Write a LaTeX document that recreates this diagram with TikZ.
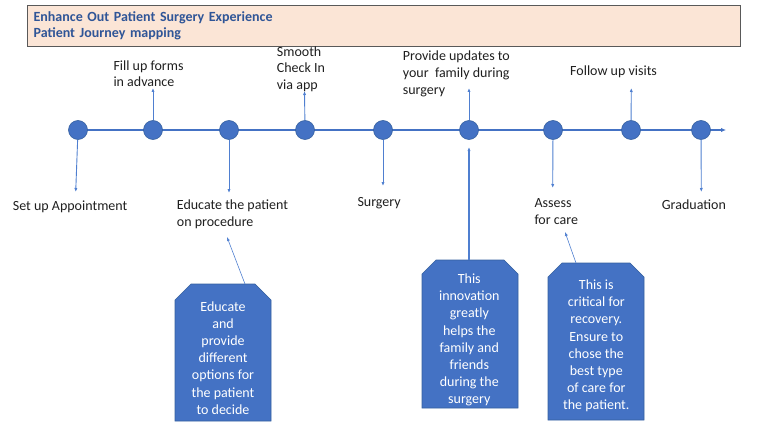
\documentclass[tikz,border=0pt]{standalone}
\usepackage{fontspec}
\setmainfont{Carlito}
\usetikzlibrary{arrows.meta,backgrounds}
\definecolor{hdrfill}{HTML}{FBE5D6}
\definecolor{hdrdraw}{HTML}{595959}
\definecolor{hdrtext}{HTML}{2F5597}
\definecolor{dotblue}{HTML}{4472C4}
\definecolor{dotdraw}{HTML}{35609F}
\definecolor{connblue}{HTML}{4F7FD0}
\definecolor{labeltext}{HTML}{1F1F1F}
\tikzset{
  dot/.style={circle, fill=dotblue, draw=dotdraw, line width=0.6pt, minimum size=19pt, inner sep=0pt},
  timeline/.style={draw=dotblue, line width=1.6pt, -{Latex[length=5pt,width=4.5pt]}},
  conn/.style={draw=connblue, line width=0.9pt, -{Latex[length=4pt,width=3.2pt]}},
  lbl/.style={anchor=north west, inner sep=0pt, align=left, text=labeltext, font=\fontsize{14}{16.8}\selectfont},
  boxtext/.style={anchor=north, inner sep=0pt, align=center, text=white, font=\fontsize{14}{17.2}\selectfont},
  chamfill/.style={fill=dotblue, draw=dotdraw, line width=0.6pt},
}
\newcommand{\chambox}[5]{%
  \path[chamfill] (#1,#4) -- (#1,#2+#5) -- (#1+#5,#2) -- (#3-#5,#2) -- (#3,#2+#5) -- (#3,#4) -- cycle;}
\begin{document}
\begin{tikzpicture}[x=1pt,y=-1pt]
\useasboundingbox (0,0) rectangle (768,433);
% header
\node[draw=hdrdraw, fill=hdrfill, line width=1.2pt, anchor=north west, minimum width=713pt, minimum height=41pt,
  text width=701pt, inner xsep=6pt, inner ysep=0pt, align=left, text=hdrtext,
  font=\fontsize{14}{16.8}\selectfont\bfseries] (hdr) at (27,5)
  {\strut Enhance Out Patient Surgery Experience\\\strut Patient Journey mapping};
% dots
\node[dot] (c1) at (78,130) {};
\node[dot] (c2) at (153,130) {};
\node[dot] (c3) at (229,130) {};
\node[dot] (c4) at (305,130) {};
\node[dot] (c5) at (383,130) {};
\node[dot] (c6) at (469,130) {};
\node[dot] (c7) at (553,130) {};
\node[dot] (c8) at (631,130) {};
\node[dot] (c9) at (701,130) {};
\coordinate (tlend) at (726,130);
\begin{scope}[on background layer]
\draw[timeline] (c1.center) -- (tlend);
\end{scope}
% labels
\node[lbl] (l1) at (12.7,198.6) {\strut Set up Appointment};
\node[lbl] (l2) at (113.3,58.1) {\strut Fill up forms\\in advance};
\node[lbl] (l3) at (176.7,197.4) {\strut Educate the patient\\on procedure};
\node[lbl] (l4) at (276.7,44.1) {\strut Smooth\\Check In\\via app};
\node[lbl] (l5) at (357.3,194.8) {\strut Surgery};
\node[lbl] (l6) at (402.7,48.8) {\strut Provide updates to\\your\ \ family during\\surgery};
\node[lbl] (l7) at (570,63.8) {\strut Follow up visits};
\node[lbl] (l8) at (534.3,195.8) {\strut Assess\\for care};
\node[lbl] (l9) at (661.7,197.1) {\strut Graduation};
% connector ends
\coordinate (a1) at (75.7,192);
\coordinate (a2) at (153,88);
\coordinate (a3) at (229,193);
\coordinate (a4) at (304.5,91);
\coordinate (a5) at (383,186);
\coordinate (a6) at (469,88);
\coordinate (a7) at (552.7,188);
\coordinate (a8) at (631.3,88);
\coordinate (a9) at (701.3,192);
\draw[conn] (c1) -- (a1);
\draw[conn] (c2) -- (a2);
\draw[conn] (c3) -- (a3);
\draw[conn] (c4) -- (a4);
\draw[conn] (c5) -- (a5);
\draw[conn] (c6) -- (a6);
\draw[conn] (c7) -- (a7);
\draw[conn] (c8) -- (a8);
\draw[conn] (c9) -- (a9);
% callout boxes
\chambox{175}{284}{271}{421}{16}
\chambox{422}{260}{518}{408}{14}
\chambox{548}{263}{644}{420}{14}
\node[boxtext] (t1) at (223,298.8) {\strut Educate\\and\\provide\\different\\options for\\the patient\\to decide};
\node[boxtext] (t2) at (469.3,271.3) {\strut This\\innovation\\greatly\\helps the\\family and\\friends\\during the\\surgery};
\node[boxtext] (t3) at (596.3,277.3) {\strut This is\\critical for\\recovery.\\Ensure to\\chose the\\best type\\of care for\\the patient.};
\coordinate (b1top) at (245,284);
\coordinate (b2top) at (469,260);
\coordinate (b3top) at (576,263);
\coordinate (p1) at (227,237);
\coordinate (p2) at (469,147);
\coordinate (p3) at (565,232);
\draw[conn, line width=0.6pt] (b1top) -- (p1);
\draw[conn, line width=1.2pt] (b2top) -- (p2);
\draw[conn, line width=0.6pt] (b3top) -- (p3);
\end{tikzpicture}
\end{document}
